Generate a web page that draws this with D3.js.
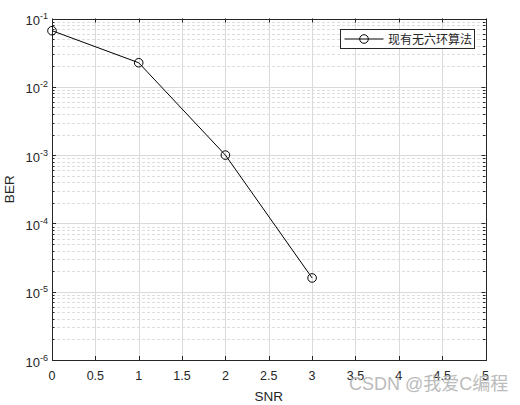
<!DOCTYPE html>
<html>
<head>
<meta charset="utf-8">
<script src="https://cdn.jsdelivr.net/npm/d3@7"></script>
<style>
  body { margin: 0; background: #fff; }
  svg { display: block; }
  text { font-family: "Liberation Sans", Arial, sans-serif; fill: #262626; }
</style>
</head>
<body>
<div id="chart"></div>
<script>
// data
var snr = [0, 1, 2, 3];
var ber = [0.0663, 0.0225, 0.00100, 0.0000159];
var seriesName = "现有无六环算法";

var xTicks = [0, 0.5, 1, 1.5, 2, 2.5, 3, 3.5, 4, 4.5, 5];
var yExponents = [-1, -2, -3, -4, -5, -6];

(function(){

  var width = 520, height = 405;
  var margin = { top: 18.5, left: 52, right: 34.5, bottom: 45 };

  var svg = d3.select("#chart").append("svg")
    .attr("width", width)
    .attr("height", height);

  var x = d3.scaleLinear()
    .domain([0, 5])
    .range([margin.left, width - margin.right]);

  var y = d3.scaleLog()
    .domain([1e-6, 1e-1])
    .range([height - margin.bottom, margin.top]);

  var x0 = x.range()[0], x1 = x.range()[1];
  var y0 = y.range()[0], y1 = y.range()[1];

  // minor values 2..9 x 10^k
  var minor = [];
  for (var k = -6; k < -1; k++) {
    for (var m = 2; m <= 9; m++) minor.push(m * Math.pow(10, k));
  }
  var major = yExponents.map(function(e){ return Math.pow(10, e); });

  var grid = svg.append("g");

  grid.selectAll(".yminor")
    .data(minor)
    .enter().append("line")
    .attr("x1", x0).attr("x2", x1)
    .attr("y1", function(d){ return Math.round(y(d)) + 0.5; })
    .attr("y2", function(d){ return Math.round(y(d)) + 0.5; })
    .attr("stroke", "#dedede")
    .attr("stroke-dasharray", "3,2");

  grid.selectAll(".ymajor")
    .data(major)
    .enter().append("line")
    .attr("x1", x0).attr("x2", x1)
    .attr("y1", function(d){ return Math.round(y(d)) + 0.5; })
    .attr("y2", function(d){ return Math.round(y(d)) + 0.5; })
    .attr("stroke", "#dadada");

  grid.selectAll(".xmajor")
    .data(xTicks)
    .enter().append("line")
    .attr("y1", y0).attr("y2", y1)
    .attr("x1", function(d){ return Math.round(x(d)) + 0.5; })
    .attr("x2", function(d){ return Math.round(x(d)) + 0.5; })
    .attr("stroke", "#dadada");

  // axes box with inward ticks
  var axes = svg.append("g").attr("stroke", "#262626").attr("fill", "none");

  axes.append("rect")
    .attr("x", Math.round(x0) + 0.5)
    .attr("y", Math.round(y1) + 0.5)
    .attr("width", Math.round(x1) - Math.round(x0))
    .attr("height", Math.round(y0) - Math.round(y1));

  xTicks.forEach(function(d){
    var px = Math.round(x(d)) + 0.5;
    axes.append("line").attr("x1", px).attr("x2", px).attr("y1", y0).attr("y2", y0 - 4);
    axes.append("line").attr("x1", px).attr("x2", px).attr("y1", y1).attr("y2", y1 + 4);
  });
  major.forEach(function(d){
    var py = Math.round(y(d)) + 0.5;
    axes.append("line").attr("x1", x0).attr("x2", x0 + 4).attr("y1", py).attr("y2", py);
    axes.append("line").attr("x1", x1).attr("x2", x1 - 4).attr("y1", py).attr("y2", py);
  });
  minor.forEach(function(d){
    var py = Math.round(y(d)) + 0.5;
    axes.append("line").attr("x1", x0).attr("x2", x0 + 2.5).attr("y1", py).attr("y2", py);
    axes.append("line").attr("x1", x1).attr("x2", x1 - 2.5).attr("y1", py).attr("y2", py);
  });

  // tick labels
  svg.append("g").selectAll("text")
    .data(xTicks)
    .enter().append("text")
    .attr("x", function(d){ return x(d); })
    .attr("y", y0 + 20)
    .attr("text-anchor", "middle")
    .style("font-size", "12.5px")
    .text(function(d){ return d; });

  var ylab = svg.append("g").selectAll("text")
    .data(yExponents)
    .enter().append("text")
    .attr("x", x0 - 4)
    .attr("y", function(d){ return y(Math.pow(10, d)) + 6.5; })
    .attr("text-anchor", "end")
    .style("font-size", "13px");
  ylab.append("tspan").text("10");
  ylab.append("tspan")
    .attr("dy", -6)
    .style("font-size", "9px")
    .text(function(d){ return "-" + Math.abs(d); });

  // axis labels
  svg.append("text")
    .attr("x", (x0 + x1) / 2)
    .attr("y", 401)
    .attr("text-anchor", "middle")
    .style("font-size", "13.5px")
    .text("SNR");

  svg.append("text")
    .attr("transform", "translate(14," + ((y0 + y1) / 2) + ") rotate(-90)")
    .attr("text-anchor", "middle")
    .style("font-size", "13.5px")
    .text("BER");

  // series
  var pts = snr.map(function(s, i){ return [s, ber[i]]; });

  var line = d3.line()
    .x(function(d){ return x(d[0]); })
    .y(function(d){ return y(d[1]); });

  svg.append("path")
    .datum(pts)
    .attr("d", line)
    .attr("fill", "none")
    .attr("stroke", "#000")
    .attr("stroke-width", 1);

  svg.selectAll(".pt")
    .data(pts)
    .enter().append("circle")
    .attr("cx", function(d){ return x(d[0]); })
    .attr("cy", function(d){ return y(d[1]); })
    .attr("r", 4.3)
    .attr("fill", "none")
    .attr("stroke", "#000")
    .attr("stroke-width", 1);

  // legend
  var lg = svg.append("g").attr("transform", "translate(340.5,29.5)");
  lg.append("rect")
    .attr("width", 134).attr("height", 19)
    .attr("fill", "#fff")
    .attr("stroke", "#262626");
  lg.append("line")
    .attr("x1", 4).attr("x2", 43).attr("y1", 9.5).attr("y2", 9.5)
    .attr("stroke", "#000");
  lg.append("circle")
    .attr("cx", 23.5).attr("cy", 9.5).attr("r", 4.3)
    .attr("fill", "none").attr("stroke", "#000");
  lg.append("text")
    .attr("x", 47.5).attr("y", 14)
    .style("font-family", "'Noto Sans CJK SC', sans-serif")
    .style("font-size", "12px")
    .text(seriesName);

  // watermark (overlaps the last x tick labels, as in the picture)
  svg.append("text")
    .attr("x", 349)
    .attr("y", 390)
    .style("font-family", "'Liberation Sans', 'Noto Sans CJK SC', sans-serif")
    .style("font-size", "18px")
    .style("fill", "#b0b0b0")
    .style("opacity", 0.85)
    .text("CSDN @我爱C编程");

})();
</script>
</body>
</html>
